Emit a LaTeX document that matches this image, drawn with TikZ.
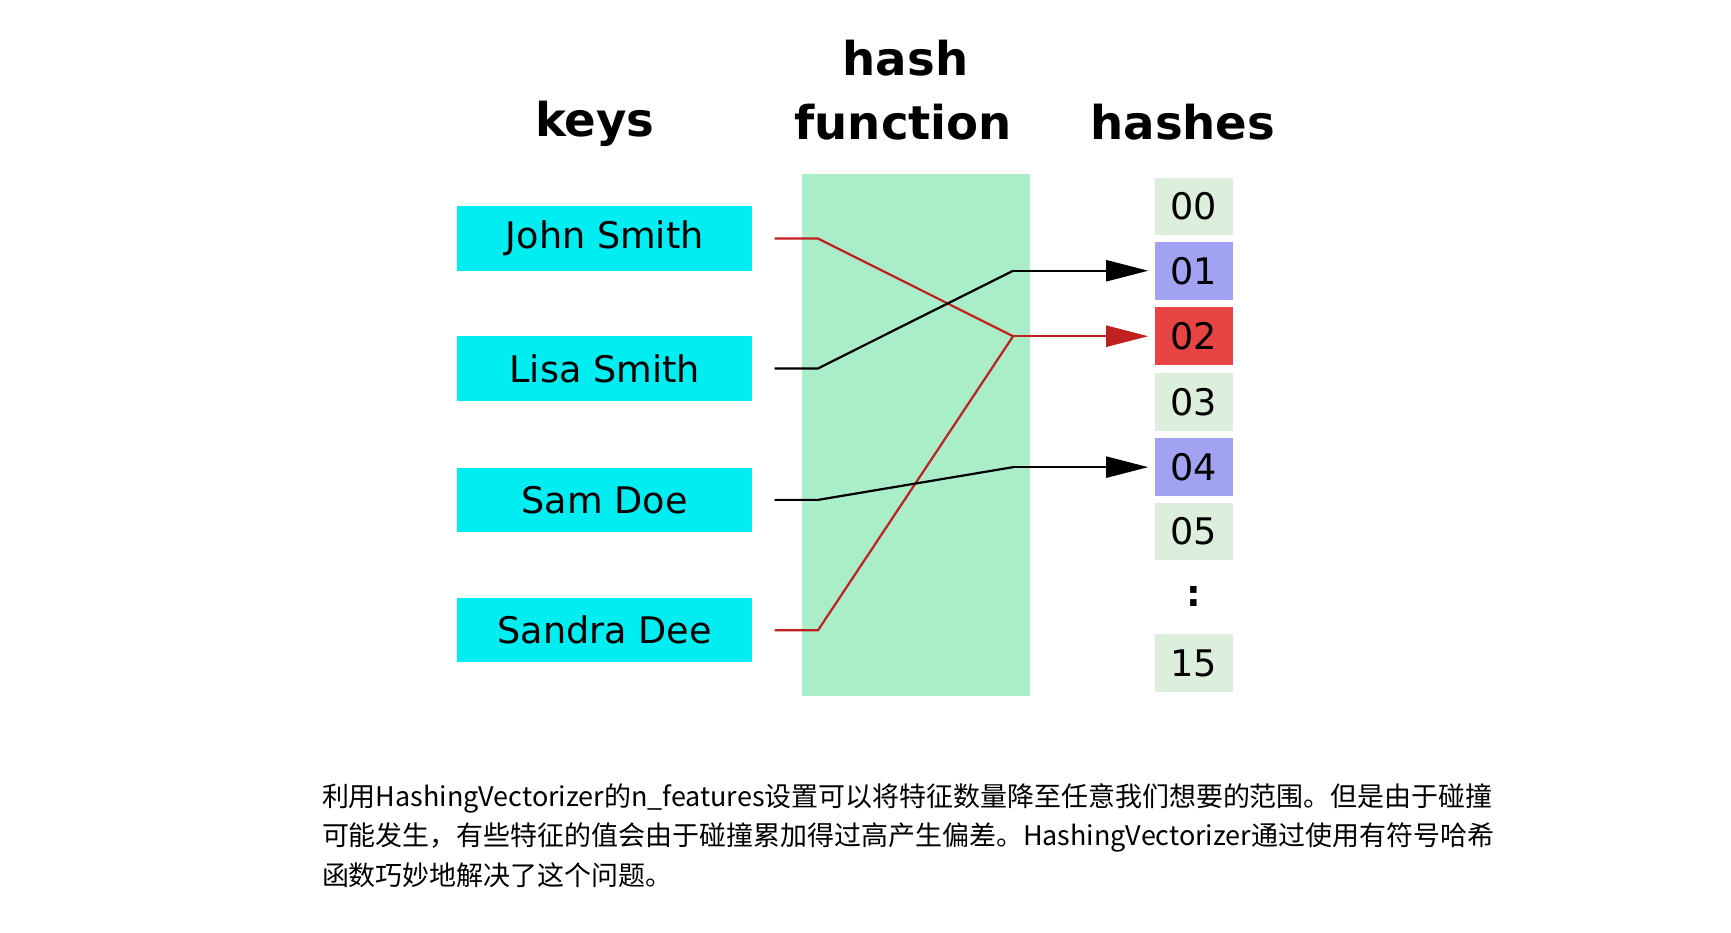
\documentclass[tikz,border=0pt]{standalone}
\usepackage{fontspec}
\setmainfont{DejaVu Sans}
\newfontfamily\cjk{Noto Sans CJK SC}
\usetikzlibrary{arrows.meta}
\definecolor{keyc}{HTML}{00EEF2}
\definecolor{hashbg}{HTML}{AAEDC9}
\definecolor{cellg}{HTML}{DCEEDC}
\definecolor{cellb}{HTML}{A2A2F2}
\definecolor{cellr}{HTML}{E84444}
\definecolor{redl}{HTML}{C02020}
\begin{document}
\begin{tikzpicture}[x=1pt,y=-1pt,
 title/.style={font=\fontsize{42}{46}\selectfont\bfseries},
 keybox/.style={fill=keyc,minimum width=266pt,minimum height=58pt,font=\fontsize{33}{36}\selectfont},
 cell/.style={fill=cellg,minimum width=70pt,minimum height=52pt,font=\fontsize{33}{36}\selectfont},
 conn/.style={line width=2pt},
 tip/.style={-{Triangle[length=38pt,width=19pt]}}]
\useasboundingbox (0,0) rectangle (1560,840);
\node[title] (t1) at (536,112) {keys};
\node[title] (t2) at (816,52) {hash};
\node[title] (t3) at (814,110) {function};
\node[title] (t4) at (1066,110) {hashes};
\node[fill=hashbg,minimum width=205pt,minimum height=470pt,inner sep=0] (hf) at (825.5,392) {};
\node[keybox] (k1) at (545,215) {John Smith};
\node[keybox] (k2) at (545,332) {Lisa Smith};
\node[keybox] (k3) at (545,450.5) {Sam Doe};
\node[keybox] (k4) at (545,568) {Sandra Dee};
\node[cell] (h0) at (1076,186) {00};
\node[cell,fill=cellb] (h1) at (1076,244) {01};
\node[cell,fill=cellr] (h2) at (1076,303) {02};
\node[cell] (h3) at (1076,362) {03};
\node[cell,fill=cellb] (h4) at (1076,421) {04};
\node[cell] (h5) at (1076,479) {05};
\node[font=\fontsize{33}{36}\selectfont\bfseries] (hd) at (1076,538) {:};
\node[cell] (h15) at (1076,597.5) {15};
\coordinate (m2) at (913,303);
\coordinate (m1) at (913,244);
\coordinate (m4) at (913,421);
\draw[conn,redl] ([xshift=20pt]k1.east) -- ++(39,0) -- (m2);
\draw[conn,redl] ([xshift=20pt]k4.east) -- ++(39,0) -- (m2);
\draw[conn,redl,tip] (m2) -- ([xshift=-6pt]h2.west);
\draw[conn] ([xshift=20pt]k2.east) -- ++(39,0) -- (m1);
\draw[conn,tip] (m1) -- ([xshift=-6pt]h1.west);
\draw[conn] ([xshift=20pt]k3.east) -- ++(39,0) -- (m4);
\draw[conn,tip] (m4) -- ([xshift=-6pt]h4.west);
\node[anchor=north west,align=left,inner sep=0,font=\cjk\fontsize{24.3}{35.5}\selectfont] (cap) at (290,706)
{利用HashingVectorizer的n\_features设置可以将特征数量降至任意我们想要的范围。但是由于碰撞\\
可能发生，有些特征的值会由于碰撞累加得过高产生偏差。HashingVectorizer通过使用有符号哈希\\
函数巧妙地解决了这个问题。};
\end{tikzpicture}
\end{document}
